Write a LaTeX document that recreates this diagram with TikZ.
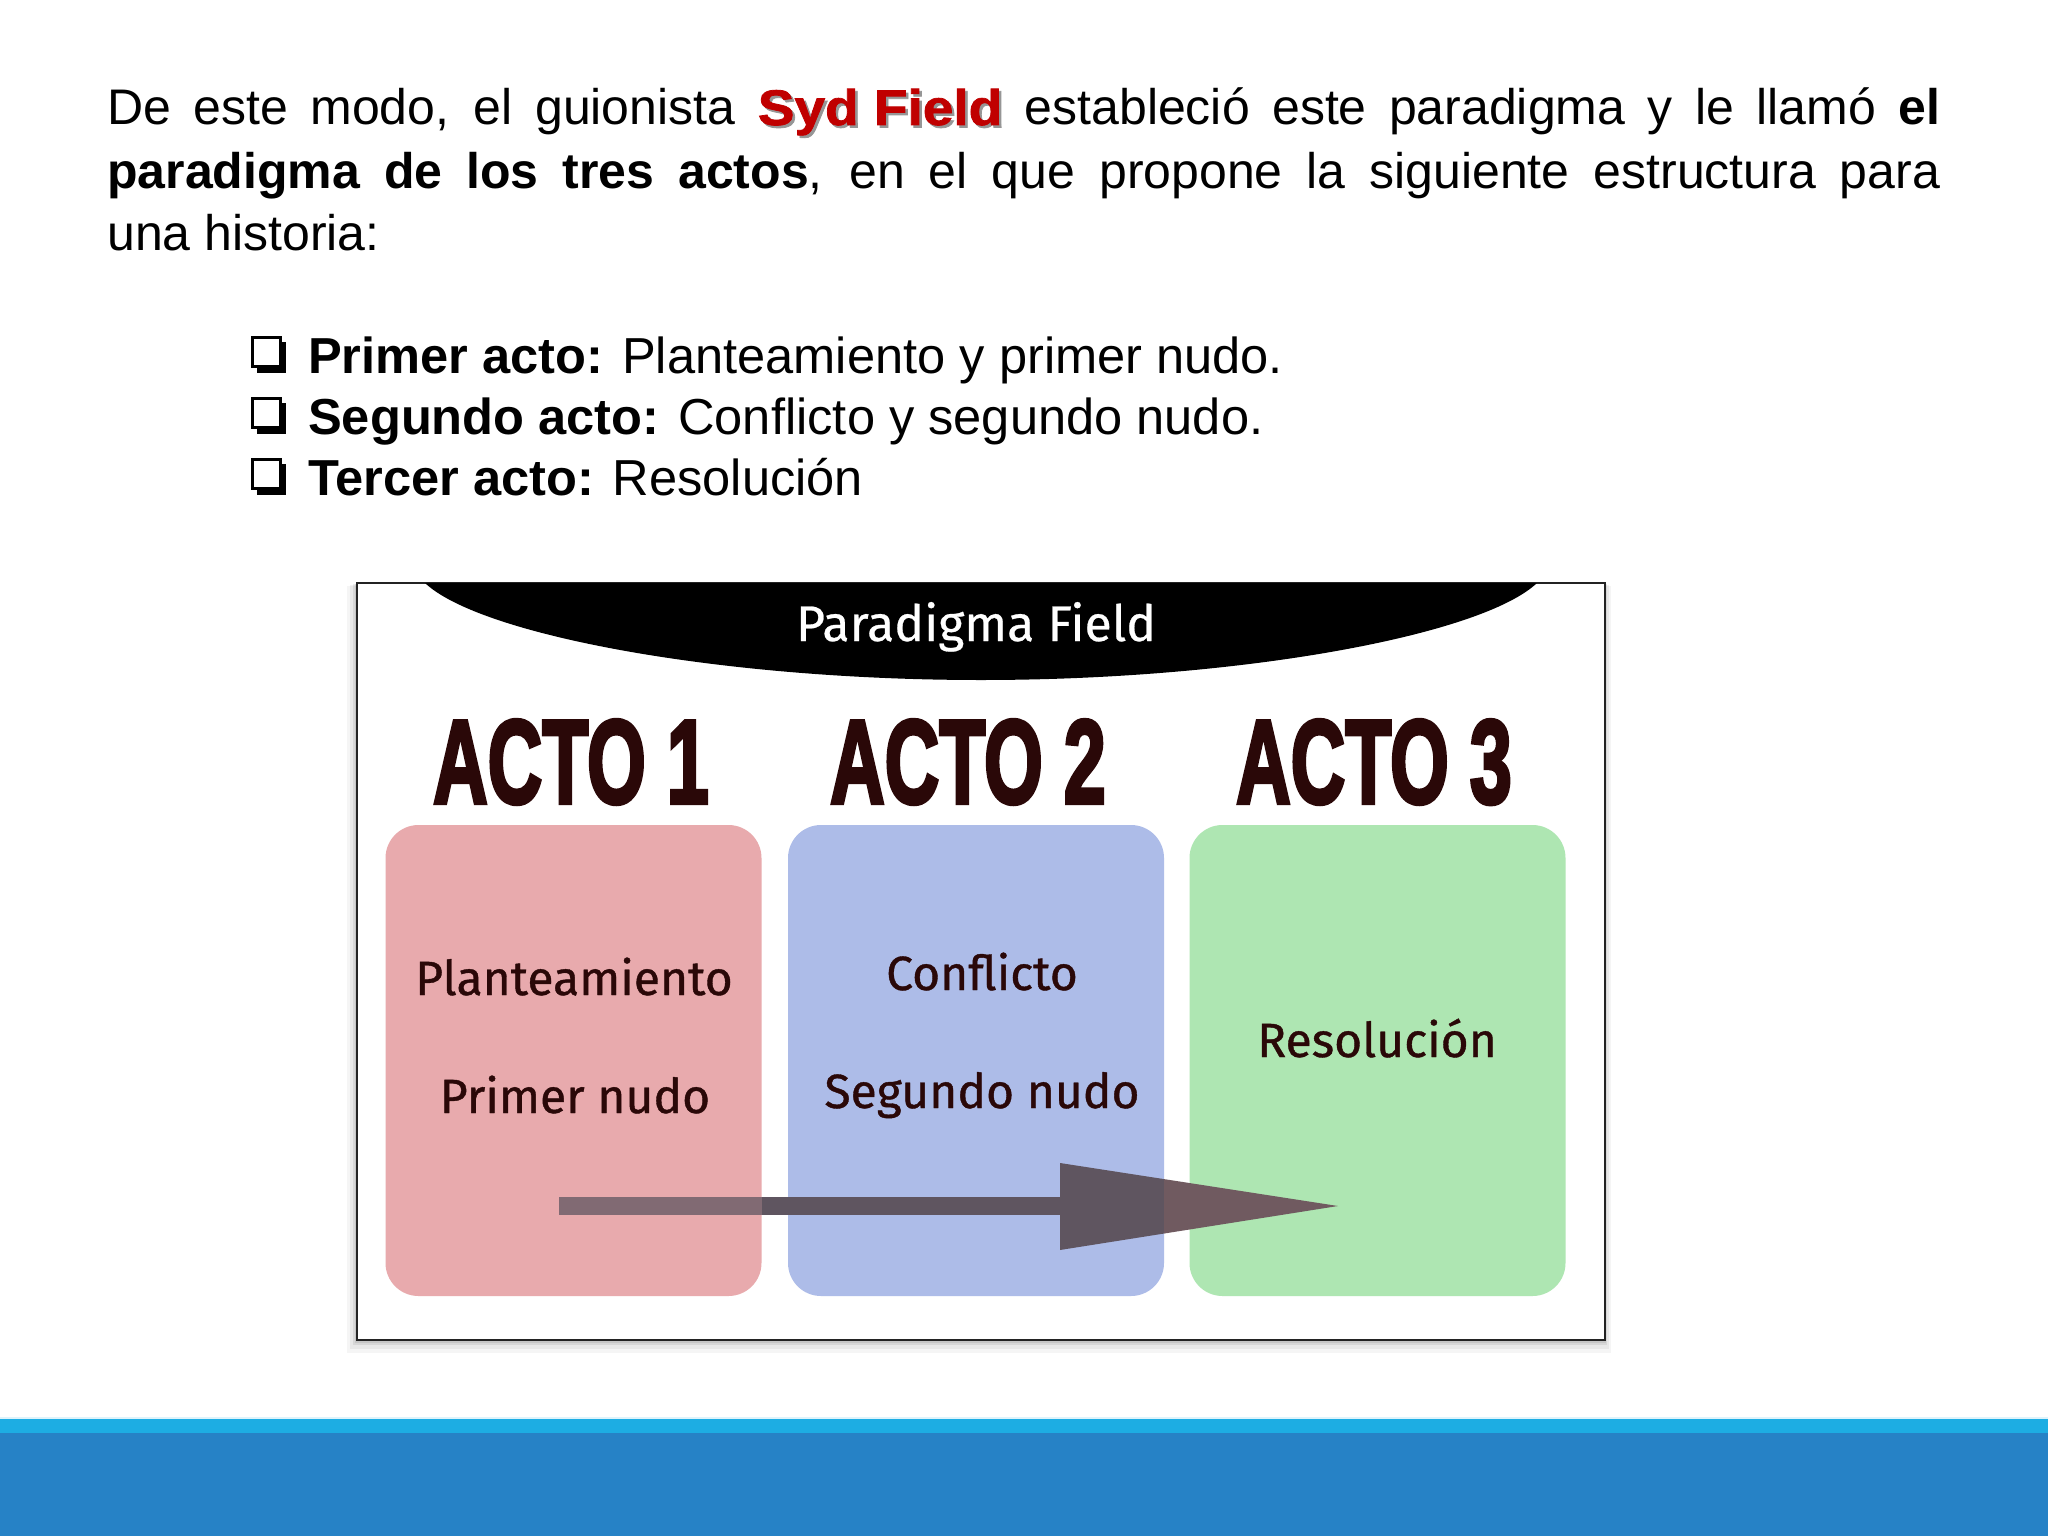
\documentclass[tikz,border=0pt]{standalone}
\usepackage{fontspec}
\setmainfont{Liberation Sans}
\newfontfamily\fira{Fira Sans}[FakeBold=0.8]
\newfontfamily\firatitle{Fira Sans}[FakeBold=0.5]
\newfontfamily\actofont{Liberation Sans}[BoldFeatures={FakeBold=3.5}]
\newfontfamily\sydfont{Liberation Sans}[BoldFeatures={FakeBold=1.5,FakeStretch=1.1}]
\definecolor{sydred}{RGB}{192,0,0}
\definecolor{sydshadow}{RGB}{150,150,150}
\definecolor{boxpink}{RGB}{232,170,173}
\definecolor{boxblue}{RGB}{173,188,232}
\definecolor{boxgreen}{RGB}{174,230,178}
\definecolor{maroon}{RGB}{42,8,8}
\definecolor{arrowcol}{RGB}{95,85,96}
\definecolor{arrowlight}{RGB}{112,90,96}
\definecolor{framecol}{RGB}{35,35,35}
\definecolor{bandlight}{RGB}{29,173,227}
\definecolor{banddark}{RGB}{38,130,198}
\newcommand\sydfield{\makebox[0pt][l]{\hspace{2.5pt}\raisebox{-2.5pt}{\color{sydshadow}\sydfont\bfseries Syd Field}}\mbox{\textcolor{sydred}{\sydfont\bfseries Syd Field}}}
\tikzset{
  para/.style={anchor=base west, inner sep=0, font=\fontsize{50}{63}\selectfont},
  bul/.style={anchor=base west, inner sep=0, font=\fontsize{50.6}{63}\selectfont},
  actbox/.style={rounded corners=33pt, minimum width=376pt, minimum height=471pt, inner sep=0, draw=none},
  acto/.style={anchor=base, inner sep=0, text=maroon, font=\actofont\bfseries\fontsize{119}{119}\selectfont},
  boxtext/.style={anchor=base, inner sep=0, text=maroon, font=\fira\fontsize{48}{48}\selectfont},
}
\begin{document}
\begin{tikzpicture}[x=1pt,y=-1pt]
\useasboundingbox (0,0) rectangle (2048,1536);
\fill[white] (0,0) rectangle (2048,1536);
% bottom band
\fill[bandlight] (0,1418) rectangle (2048,1433);
\fill[banddark] (0,1433) rectangle (2048,1536);
\draw[white!85!bandlight, line width=1.5pt] (0,1418) -- (2048,1418);
% paragraph
\node[para] (l1) at (107,125) {\makebox[1833pt][s]{De este modo, el guionista \sydfield\ estableció este paradigma y le llamó \textbf{el}}};
\node[para] (l2) at (107,188) {\makebox[1833pt][s]{\textbf{paradigma de los tres actos}, en el que propone la siguiente estructura para}};
\node[para] (l3) at (107,250) {una historia:};
% bullets
\foreach \yy/\nm/\txt in {373/p1/{\textbf{Primer acto:} Planteamiento y primer nudo.},
                          434/p2/{\textbf{Segundo acto:} Conflicto y segundo nudo.},
                          495/p3/{\textbf{Tercer acto:} Resolución}}{
  \fill[black] (257,\yy-31) rectangle (286,\yy);
  \filldraw[fill=white, draw=black, line width=2.6pt] (252.3,\yy-35.7) rectangle (280.7,\yy-6.3);
  \node[bul] (\nm) at (308,\yy) {\txt};
}
% frame shadow
\foreach \d/\o in {10/0.04,7/0.05,4/0.07,2/0.08}{
  \fill[black, opacity=\o] (357-\d,583+\d*0.3) rectangle (1605+\d*0.6,1340+\d*1.3);
}
\draw[draw=framecol, line width=2pt, fill=white] (357,583) rectangle (1605,1340);
% black cap
\fill[black] (425,583) .. controls (480,635) and (720,680) .. (981,680)
             .. controls (1242,680) and (1482,635) .. (1537,583) -- cycle;
\node[anchor=base, inner sep=0, text=white, font=\firatitle\fontsize{50}{50}\selectfont] (title) at (976,641) {Paradigma Field};
% acto headings
\node[acto] (a1) at (571,803) {\scalebox{0.635}[1]{ACTO 1}};
\node[acto] (a2) at (968,803) {\scalebox{0.635}[1]{ACTO 2}};
\node[acto] (a3) at (1374,803) {\scalebox{0.635}[1]{ACTO 3}};
% boxes
\node[actbox, fill=boxpink] (bx1) at (573.5,1060.5) {};
\node[actbox, fill=boxblue] (bx2) at (976,1060.5) {};
\node[actbox, fill=boxgreen] (bx3) at (1377.5,1060.5) {};
% arrow
\fill[arrowcol!75!boxpink] (559,1197) rectangle (762,1215);
\fill[arrowcol] (762,1197) rectangle (1061,1215);
\begin{scope}
  \clip (1060,1100) rectangle (1164,1300);
  \fill[arrowcol] (1060,1163) -- (1338,1206) -- (1060,1250) -- cycle;
\end{scope}
\begin{scope}
  \clip (1164,1100) rectangle (1400,1300);
  \fill[arrowlight] (1060,1163) -- (1338,1206) -- (1060,1250) -- cycle;
\end{scope}
% box texts
\node[boxtext] (t1) at (574,995) {Planteamiento};
\node[boxtext] (t2) at (575,1113) {Primer nudo};
\node[boxtext] (t3) at (982,990) {Conflicto};
\node[boxtext] (t4) at (982,1108) {Segundo nudo};
\node[boxtext] (t5) at (1377,1057) {Resolución};
\end{tikzpicture}
\end{document}
